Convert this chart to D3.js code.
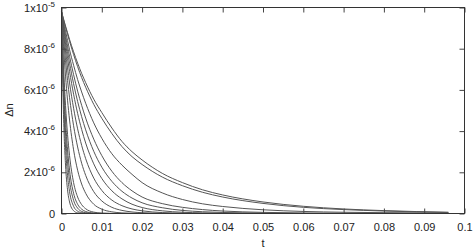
<!DOCTYPE html>
<html>
<head>
<meta charset="utf-8">
<script src="https://cdn.jsdelivr.net/npm/d3@7"></script>
<style>
body { margin: 0; background: #fff; }
text { font-family: "Liberation Sans", Arial, sans-serif; fill: #222; }
</style>
</head>
<body>
<div id="chart"></div>
<script>
var w = 474;
var h = 250;

// sample times (s) shared by every curve
var times = [0, 0.0005, 0.001, 0.0015, 0.002, 0.003, 0.004, 0.005, 0.006, 0.008, 0.01,
    0.0125, 0.015, 0.0175, 0.02, 0.025, 0.03, 0.035, 0.04, 0.05, 0.06, 0.07, 0.08, 0.096];

// delta n values, in units of 1e-6
var curveA = [9.8, 9.45, 9.1, 8.78, 8.45, 7.85, 7.3, 6.8, 6.35, 5.55, 4.9, 4.15, 3.5, 3.0, 2.6, 1.95, 1.5, 1.15, 0.9, 0.56, 0.35, 0.22, 0.14, 0.06];
var curveB = [9.8, 9.42, 9.05, 8.7, 8.36, 7.72, 7.13, 6.6, 6.13, 5.3, 4.62, 3.88, 3.25, 2.76, 2.38, 1.77, 1.35, 1.03, 0.8, 0.49, 0.3, 0.19, 0.12, 0.05];
var curveC = [9.8, 9.3, 8.85, 8.4, 7.95, 7.2, 6.5, 5.9, 5.35, 4.4, 3.65, 2.9, 2.35, 1.9, 1.5, 1.0, 0.68, 0.47, 0.34, 0.18, 0.1, 0.06, 0.04, 0.02];
var curveD = [9.8, 9.2, 8.65, 8.12, 7.63, 6.74, 5.94, 5.25, 4.63, 3.61, 2.81, 2.05, 1.5, 1.1, 0.8, 0.48, 0.3, 0.19, 0.12, 0.055, 0.025, 0.012, 0.006, 0.002];
var curveE = [9.8, 9.11, 8.46, 7.86, 7.3, 6.3, 5.44, 4.7, 4.06, 3.02, 2.25, 1.56, 1.08, 0.75, 0.52, 0.28, 0.15, 0.085, 0.05, 0.018, 0.007, 0.003, 0.001, 0];
var curveF = [9.8, 8.98, 8.22, 7.53, 6.9, 5.79, 4.86, 4.08, 3.42, 2.41, 1.7, 1.1, 0.71, 0.45, 0.29, 0.13, 0.06, 0.03, 0.015, 0.004, 0, 0, 0, 0];
var curveG = [9.8, 8.79, 7.89, 7.07, 6.34, 5.11, 4.11, 3.31, 2.66, 1.72, 1.12, 0.65, 0.38, 0.22, 0.13, 0.045, 0.016, 0.006, 0.002, 0, 0, 0, 0, 0];
var curveH = [9.8, 8.53, 7.42, 6.46, 5.62, 4.26, 3.23, 2.44, 1.85, 1.06, 0.61, 0.3, 0.15, 0.075, 0.038, 0.01, 0.002, 0, 0, 0, 0, 0, 0, 0];
var curveI = [9.8, 8.09, 6.67, 5.5, 4.54, 3.09, 2.1, 1.43, 0.98, 0.45, 0.21, 0.08, 0.03, 0.012, 0.005, 0.001, 0, 0, 0, 0, 0, 0, 0, 0];
var curveJ = [9.8, 7.17, 5.25, 3.84, 2.81, 1.5, 0.8, 0.43, 0.23, 0.066, 0.019, 0.004, 0, 0, 0, 0, 0, 0, 0, 0, 0, 0, 0, 0];
var curveK = [9.8, 6.67, 4.54, 3.09, 2.1, 0.98, 0.45, 0.21, 0.097, 0.021, 0.0045, 0, 0, 0, 0, 0, 0, 0, 0, 0, 0, 0, 0, 0];
var curveL = [9.8, 6.22, 3.95, 2.51, 1.59, 0.64, 0.26, 0.1, 0.04, 0.007, 0.001, 0, 0, 0, 0, 0, 0, 0, 0, 0, 0, 0, 0, 0];
var curveM = [9.8, 5.62, 3.23, 1.85, 1.06, 0.35, 0.115, 0.04, 0.013, 0.001, 0, 0, 0, 0, 0, 0, 0, 0, 0, 0, 0, 0, 0, 0];
var curveN = [9.8, 4.8, 2.35, 1.15, 0.56, 0.135, 0.03, 0.01, 0, 0, 0, 0, 0, 0, 0, 0, 0, 0, 0, 0, 0, 0, 0, 0];

var curves = [curveA, curveB, curveC, curveD, curveE, curveF, curveG, curveH, curveI,
    curveJ, curveK, curveL, curveM, curveN];

var xTicks = [0, 0.01, 0.02, 0.03, 0.04, 0.05, 0.06, 0.07, 0.08, 0.09, 0.1];
var xTickLabels = ["0", "0.01", "0.02", "0.03", "0.04", "0.05", "0.06", "0.07", "0.08", "0.09", "0.1"];
var yTicks = [0, 2e-6, 4e-6, 6e-6, 8e-6, 1e-5];
var yTickMant = ["0", "2x10", "4x10", "6x10", "8x10", "1x10"];
var yTickExp = ["", "-6", "-6", "-6", "-6", "-5"];

var pLeft = 61.5, pRight = 464.5, pTop = 7.5, pBottom = 213.5;

var svg = d3.select("#chart")
    .append("svg")
    .attr("width", w)
    .attr("height", h);

var xScale = d3.scaleLinear().domain([0, 0.1]).range([pLeft, pRight]);
var yScale = d3.scaleLinear().domain([0, 1e-5]).range([pBottom, pTop]);

// curves
var line = d3.line()
    .x(function (d) { return xScale(d[0]); })
    .y(function (d) { return yScale(d[1] * 1e-6); })
    .curve(d3.curveMonotoneX);

svg.selectAll("path.curve")
    .data(curves)
    .enter()
    .append("path")
    .attr("class", "curve")
    .attr("d", function (c) {
        return line(c.map(function (v, i) { return [times[i], v]; }));
    })
    .attr("fill", "none")
    .attr("stroke", "#555")
    .attr("stroke-width", 1);

// axes, gnuplot style: ticks inward, mirrored
var xAxis = d3.axisBottom(xScale).tickValues(xTicks).tickSizeInner(-5).tickSizeOuter(0)
    .tickFormat(function (d, i) { return xTickLabels[i]; }).tickPadding(10);
var xAxisTop = d3.axisTop(xScale).tickValues(xTicks).tickSizeInner(-5).tickSizeOuter(0)
    .tickFormat("");
var yAxis = d3.axisLeft(yScale).tickValues(yTicks).tickSizeInner(-5).tickSizeOuter(0)
    .tickFormat("");
var yAxisRight = d3.axisRight(yScale).tickValues(yTicks).tickSizeInner(-5).tickSizeOuter(0)
    .tickFormat("");

svg.append("g").attr("transform", "translate(0," + pBottom + ")").call(xAxis);
svg.append("g").attr("transform", "translate(0," + pTop + ")").call(xAxisTop);
svg.append("g").attr("transform", "translate(" + pLeft + ",0)").call(yAxis);
svg.append("g").attr("transform", "translate(" + pRight + ",0)").call(yAxisRight);

svg.selectAll(".domain").remove();
svg.selectAll(".tick line").attr("stroke", "#444");
svg.selectAll(".tick text").attr("font-size", "11px").attr("fill", "#222")
    .attr("font-family", "Liberation Sans, Arial, sans-serif");

// y tick labels with superscripts
var yl = svg.append("g").selectAll("text")
    .data(yTicks)
    .enter()
    .append("text")
    .attr("x", 55)
    .attr("y", function (d) { return yScale(d) + 4; })
    .attr("text-anchor", "end")
    .attr("font-size", "11px");
yl.append("tspan").text(function (d, i) { return yTickMant[i]; });
yl.append("tspan")
    .attr("dy", -5)
    .attr("font-size", "8px")
    .text(function (d, i) { return yTickExp[i]; });

// border
svg.append("rect")
    .attr("x", pLeft).attr("y", pTop)
    .attr("width", pRight - pLeft).attr("height", pBottom - pTop)
    .attr("fill", "none")
    .attr("stroke", "#333")
    .attr("stroke-width", 1);

// axis titles
svg.append("text")
    .attr("transform", "translate(13,110) rotate(-90)")
    .attr("text-anchor", "middle")
    .attr("font-size", "11px")
    .text("Δn");

svg.append("text")
    .attr("x", 263)
    .attr("y", 247)
    .attr("text-anchor", "middle")
    .attr("font-size", "11px")
    .text("t");
</script>
</body>
</html>
